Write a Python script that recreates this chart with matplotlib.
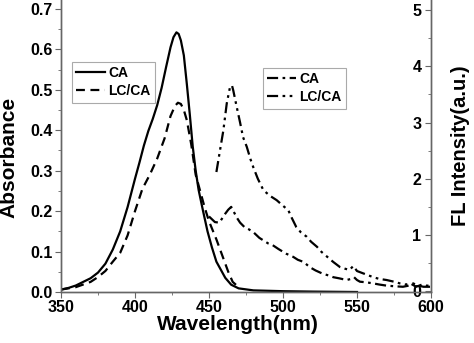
import matplotlib
matplotlib.use("Agg")
import matplotlib.pyplot as plt
from matplotlib.ticker import MultipleLocator

plt.rcParams['font.family'] = ['Liberation Sans', 'DejaVu Sans']
plt.rcParams['font.weight'] = 'bold'

# absorbance spectra
abs_ca_wl = [350, 355, 360, 365, 370, 375, 380, 385, 390, 395, 400, 403, 406, 409,
             412, 415, 418, 421, 424, 426, 428, 429.5, 431, 433, 435, 437, 439,
             441, 443, 446, 449, 452, 455, 458, 461, 465, 470, 480, 490, 500, 520,
             550]
abs_ca = [0.006, 0.010, 0.016, 0.025, 0.034, 0.048, 0.070, 0.105, 0.150, 0.210,
          0.280, 0.320, 0.362, 0.398, 0.428, 0.462, 0.505, 0.556, 0.605, 0.630,
          0.642, 0.638, 0.622, 0.585, 0.515, 0.440, 0.360, 0.300, 0.252, 0.200,
          0.150, 0.110, 0.075, 0.055, 0.035, 0.018, 0.009, 0.004, 0.003, 0.002,
          0.001, 0.0]

abs_lc_wl = [350, 360, 370, 375, 380, 385, 390, 395, 400, 405, 410, 415, 420, 424,
             427, 429, 431, 433, 435, 438, 441, 444, 447, 450, 455, 460, 463, 466,
             470]
abs_lc = [0.006, 0.012, 0.025, 0.037, 0.052, 0.075, 0.097, 0.140, 0.200, 0.255,
          0.290, 0.330, 0.380, 0.435, 0.460, 0.468, 0.465, 0.450, 0.425, 0.365,
          0.290, 0.250, 0.210, 0.175, 0.130, 0.080, 0.050, 0.025, 0.012]

# fluorescence spectra
fl_ca_wl = [450, 452, 454, 457, 459, 461, 463, 465, 467, 469, 471, 474, 477, 480,
            484, 487, 490, 493, 497, 502, 507, 510, 514, 518, 522, 527, 531, 534,
            538, 543, 546, 548, 550, 552, 556, 561, 565, 570, 575, 581, 585, 588,
            591, 595, 600]
fl_ca = [1.33, 1.28, 1.23, 1.22, 1.30, 1.38, 1.45, 1.50, 1.40, 1.30, 1.22, 1.14,
         1.10, 1.05, 0.95, 0.90, 0.85, 0.82, 0.75, 0.67, 0.61, 0.56, 0.52, 0.43,
         0.37, 0.31, 0.28, 0.25, 0.23, 0.20, 0.22, 0.25, 0.20, 0.17, 0.16, 0.14,
         0.12, 0.10, 0.09, 0.08, 0.10, 0.14, 0.10, 0.08, 0.08]

fl_lc_wl = [455, 457.4, 459.7, 462, 464.2, 465.5, 466.4, 468.7, 471, 473, 475.5,
            478, 480, 483, 486.7, 491, 495.7, 500, 503.6, 506, 509, 512, 516, 519,
            523, 526, 530, 534, 538.5, 542, 545, 547.5, 550, 552, 556, 561, 565,
            570, 575, 579, 583, 586, 590, 594, 597, 600]
fl_lc = [2.12, 2.50, 2.86, 3.34, 3.63, 3.66, 3.57, 3.28, 3.00, 2.74, 2.57, 2.35,
         2.20, 2.00, 1.80, 1.70, 1.62, 1.52, 1.44, 1.30, 1.14, 1.05, 0.97, 0.88,
         0.79, 0.70, 0.61, 0.52, 0.43, 0.40, 0.38, 0.45, 0.36, 0.34, 0.30, 0.25,
         0.22, 0.20, 0.17, 0.14, 0.12, 0.14, 0.08, 0.12, 0.10, 0.10]

W, H = 474, 343
fig = plt.figure(figsize=(W / 100, H / 100), dpi=100)
ax = fig.add_axes([61 / W, (H - 292) / H, 370 / W, 292 / H])
ax2 = ax.twinx()

lw = 1.6
ax.plot(abs_ca_wl, abs_ca, color='black', lw=lw, label='CA')
ax.plot(abs_lc_wl, abs_lc, color='black', lw=lw, dashes=(4, 2.5), label='LC/CA')
ax2.plot(fl_ca_wl, fl_ca, color='black', lw=lw, dashes=(5, 2, 1.2, 2), label='CA')
ax2.plot(fl_lc_wl, fl_lc, color='black', lw=lw,
         dashes=(5, 2, 1.2, 2, 1.2, 2), label='LC/CA')

ax.set_xlim(350, 600)
ax.set_ylim(0, 0.722)
ax2.set_ylim(-0.013, 5.178)

spine_col = '#666666'
for a in (ax, ax2):
    a.spines['top'].set_visible(False)
    for s in ('left', 'right', 'bottom'):
        a.spines[s].set_color(spine_col)
        a.spines[s].set_linewidth(1.0)

ax.xaxis.set_major_locator(MultipleLocator(50))
ax.xaxis.set_minor_locator(MultipleLocator(25))
ax.yaxis.set_major_locator(MultipleLocator(0.1))
ax.yaxis.set_minor_locator(MultipleLocator(0.05))
ax.yaxis.set_major_formatter(plt.FormatStrFormatter('%.1f'))
ax2.yaxis.set_major_locator(MultipleLocator(1))
ax2.yaxis.set_minor_locator(MultipleLocator(0.5))

ax.tick_params(which='major', direction='out', length=4, color=spine_col,
               labelsize=11.5, pad=2)
ax.tick_params(which='minor', direction='out', length=2.5, color=spine_col)
ax2.tick_params(which='major', direction='in', length=4, color=spine_col,
                labelsize=11.5, pad=-7)
ax2.tick_params(which='minor', direction='in', length=2.5, color=spine_col)
for lbl in ax2.get_yticklabels():
    lbl.set_horizontalalignment('right')
for lbl in ax.get_xticklabels() + ax.get_yticklabels() + ax2.get_yticklabels():
    lbl.set_fontweight('bold')

fig.text(9 / W, 1 - 157 / H, 'Absorbance', rotation=90, ha='center', va='center',
         fontsize=15, fontweight='bold')
fig.text(461 / W, 1 - 146 / H, 'FL Intensity(a.u.)', rotation=90, ha='center',
         va='center', fontsize=14.5, fontweight='bold')
fig.text(238 / W, 1 - 325 / H, 'Wavelength(nm)', ha='center', va='center',
         fontsize=15, fontweight='bold')

leg_kw = dict(fontsize=10, handlelength=2.1, handletextpad=0.2, borderpad=0.3,
              labelspacing=0.3, fancybox=False, framealpha=1, borderaxespad=0)
leg1 = ax.legend(loc='upper left', bbox_to_anchor=(72 / W, 1 - 62 / H),
                 bbox_transform=fig.transFigure, **leg_kw)
leg2 = ax2.legend(loc='upper left', bbox_to_anchor=(263 / W, 1 - 68 / H),
                  bbox_transform=fig.transFigure, **leg_kw)
for leg in (leg1, leg2):
    leg.get_frame().set_edgecolor('#aaaaaa')
    leg.get_frame().set_linewidth(0.8)
    for t in leg.get_texts():
        t.set_fontweight('bold')

fig.savefig('out.png', dpi=100)
